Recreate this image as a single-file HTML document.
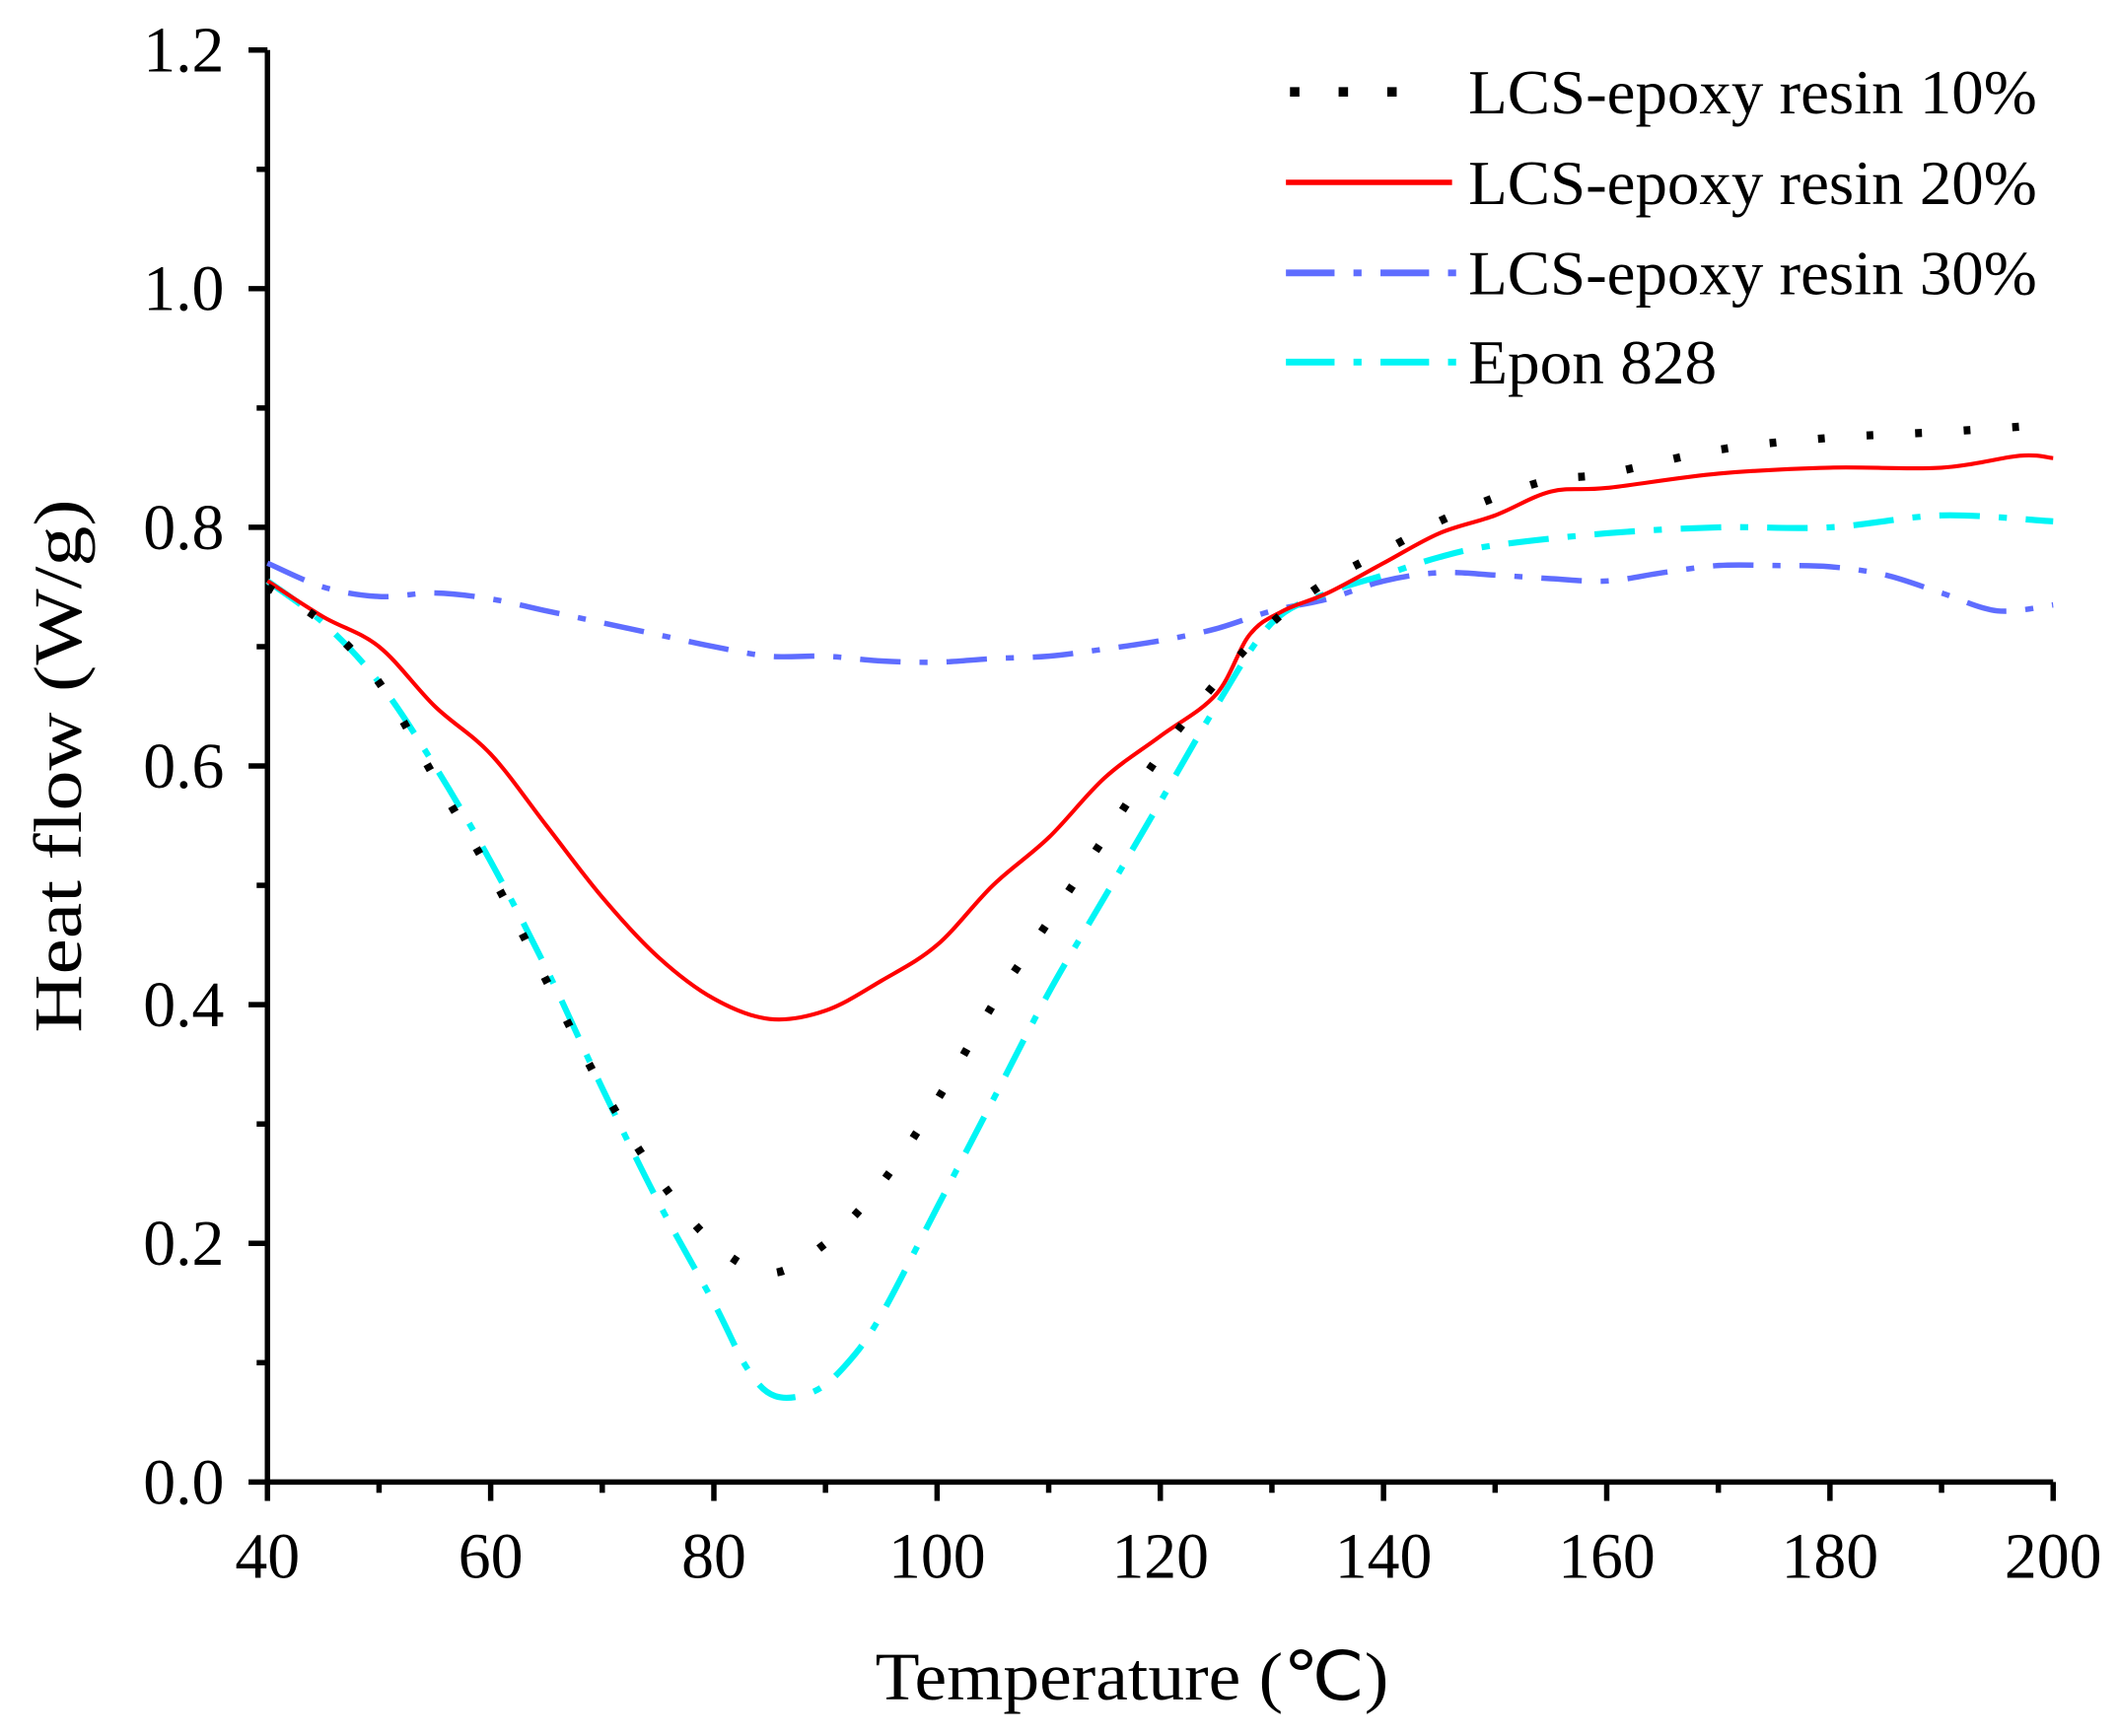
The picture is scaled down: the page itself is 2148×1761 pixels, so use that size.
<!DOCTYPE html>
<html><head><meta charset="utf-8"><style>html,body{margin:0;padding:0;background:#fff}svg{display:block}</style></head>
<body>
<svg id="s" width="2148" height="1761" viewBox="0 0 1568 1285" preserveAspectRatio="none" xmlns="http://www.w3.org/2000/svg" font-family="'Liberation Serif',serif">
<rect width="1568" height="1285" fill="#fff"/>
<g id="ax" stroke="#000" stroke-width="4" fill="none"></g>
<g id="lab" font-size="48" fill="#000"></g>
<g id="series" fill="none"></g>
<text x="648" y="1258" font-size="50" textLength="380" lengthAdjust="spacingAndGlyphs">Temperature (℃)</text>
<text transform="translate(60,567) rotate(-90)" font-size="50" text-anchor="middle" textLength="395" lengthAdjust="spacingAndGlyphs">Heat flow (W/g)</text>
<g font-size="46">
<line x1="955" y1="68" x2="1060" y2="68" stroke="#000" stroke-width="7" stroke-dasharray="7,29"/>
<text x="1087" y="84" textLength="421" lengthAdjust="spacingAndGlyphs">LCS-epoxy resin 10%</text>
<line x1="952" y1="135" x2="1075" y2="135" stroke="#f00" stroke-width="4"/>
<text x="1087" y="151" textLength="421" lengthAdjust="spacingAndGlyphs">LCS-epoxy resin 20%</text>
<line x1="952" y1="202" x2="1078" y2="202" stroke="#5f6dff" stroke-width="5" stroke-dasharray="36,14,6,14"/>
<text x="1087" y="218" textLength="421" lengthAdjust="spacingAndGlyphs">LCS-epoxy resin 30%</text>
<line x1="952" y1="268" x2="1078" y2="268" stroke="#00f5f5" stroke-width="5" stroke-dasharray="36,14,6,14"/>
<text x="1087" y="284" textLength="184" lengthAdjust="spacingAndGlyphs">Epon 828</text>
</g>
</svg>
<script>
const X=t=>198+(t-40)*8.2625, Y=v=>1097-v*883.33;
const ns="http://www.w3.org/2000/svg";
function el(p,n,a){const e=document.createElementNS(ns,n);for(const k in a)e.setAttribute(k,a[k]);p.appendChild(e);return e;}
const ax=document.getElementById('ax'), lab=document.getElementById('lab');
el(ax,'path',{d:`M198 37 V1097 H1520`});
for(let i=0;i<=12;i++){const v=i*0.1,y=Y(v),maj=i%2==0;
 el(ax,'line',{x1:198-(maj?14:8),y1:y,x2:198,y2:y});
 if(maj){const t=el(lab,'text',{x:166,y:y+16,'text-anchor':'end'});t.textContent=v.toFixed(1);}}
for(let i=0;i<=16;i++){const t=40+i*10,x=X(t),maj=i%2==0;
 el(ax,'line',{x1:x,y1:1097,x2:x,y2:1097+(maj?14:8)});
 if(maj){const e=el(lab,'text',{x:x,y:1168,'text-anchor':'middle'});e.textContent=t;}}
function path(d){d=d.map(p=>[X(p[0]),Y(p[1])]);let s=`M${d[0][0]} ${d[0][1]}`;
 for(let i=0;i<d.length-1;i++){const p0=d[Math.max(0,i-1)],p1=d[i],p2=d[i+1],p3=d[Math.min(d.length-1,i+2)];
  s+=` C${p1[0]+(p2[0]-p0[0])/6} ${p1[1]+(p2[1]-p0[1])/6} ${p2[0]-(p3[0]-p1[0])/6} ${p2[1]-(p3[1]-p1[1])/6} ${p2[0]} ${p2[1]}`;}
 return s;}
const S=document.getElementById('series');
const blue=[[40,.77],[45,.75],[50,.742],[55,.745],[60,.74],[65,.73],[70,.72],[75,.71],[80,.70],[85,.692],[90,.692],[95,.688],[100,.687],[105,.69],[110,.692],[115,.698],[120,.705],[125,.715],[130,.73],[135,.74],[140,.755],[145,.762],[150,.76],[155,.757],[160,.755],[165,.762],[170,.768],[175,.768],[180,.767],[185,.76],[190,.745],[195,.73],[200,.735]];
const cyan=[[40,.755],[45,.72],[50,.67],[55,.60],[60,.52],[65,.43],[70,.33],[75,.235],[80,.15],[83,.095],[85.5,.072],[89,.076],[92,.10],[95,.14],[100,.23],[105,.32],[110,.41],[115,.49],[120,.57],[125,.65],[130,.72],[135,.745],[140,.76],[145,.775],[150,.785],[160,.795],[170,.80],[180,.80],[190,.81],[200,.805]];
const red=[[40,.755],[45,.725],[50,.70],[55,.65],[60,.61],[65,.55],[70,.49],[75,.44],[80,.405],[85,.388],[90,.395],[95,.42],[100,.45],[105,.50],[110,.54],[115,.59],[120,.625],[125,.66],[128,.71],[131,.73],[135,.745],[140,.77],[145,.795],[150,.81],[155,.83],[160,.833],[170,.845],[180,.85],[190,.85],[197,.86],[200,.858]];
const black=[[40,.75],[45,.72],[50,.67],[55,.59],[60,.51],[65,.42],[70,.33],[75,.255],[80,.20],[85,.175],[90,.20],[95,.25],[100,.32],[105,.40],[110,.47],[115,.54],[120,.61],[125,.67],[130,.72],[135,.755],[140,.78],[145,.805],[150,.825],[155,.84],[160,.845],[170,.865],[180,.875],[190,.88],[198,.885]];
el(S,'path',{d:path(blue),stroke:'#5f6dff','stroke-width':4,'stroke-dasharray':'30,14,6,14'});
el(S,'path',{d:path(cyan),stroke:'#00f5f5','stroke-width':4.5,'stroke-dasharray':'30,14,6,14'});
el(S,'path',{d:path(red),stroke:'#f00','stroke-width':3});
el(S,'path',{d:path(black),stroke:'#000','stroke-width':6,'stroke-dasharray':'5,31'});
</script>
</body></html>
